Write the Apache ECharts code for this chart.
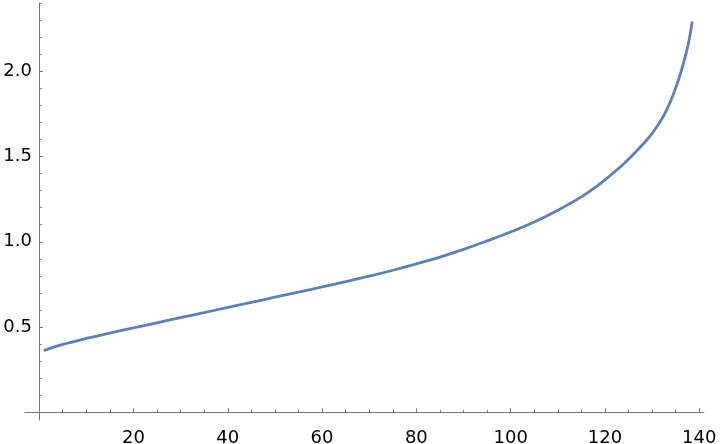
<!DOCTYPE html>
<html>
<head>
<meta charset="utf-8">
<script src="https://cdn.jsdelivr.net/npm/echarts@6/dist/echarts.min.js"></script>
<style>
html,body{margin:0;padding:0;background:#fff;}
#chart{width:720px;height:444px;}
</style>
</head>
<body>
<div id="chart"></div>
<script>
// Curve samples
var xValues = [1, 5, 10, 15, 20, 25, 30, 35, 40, 45, 50, 55, 60, 65, 70, 75, 80, 85, 90, 95, 100, 105, 110, 115, 118, 120, 122, 124, 126, 128, 129, 130, 131, 132, 133, 134, 135, 136, 137, 137.5, 138, 138.5];
var yValues = [0.362, 0.398, 0.433, 0.465, 0.495, 0.525, 0.555, 0.585, 0.615, 0.645, 0.675, 0.705, 0.735, 0.766, 0.798, 0.833, 0.870, 0.910, 0.955, 1.005, 1.057, 1.116, 1.185, 1.263, 1.320, 1.363, 1.409, 1.458, 1.512, 1.570, 1.601, 1.6355, 1.674, 1.7175, 1.769, 1.830, 1.902, 1.985, 2.082, 2.139, 2.207, 2.292];

// Tick marks
var xMajorTicks = [20, 40, 60, 80, 100, 120, 140];
var xMinorTicks = [5, 10, 15, 25, 30, 35, 45, 50, 55, 65, 70, 75, 85, 90, 95, 105, 110, 115, 125, 130, 135];
var yMajorTicks = [0.5, 1.0, 1.5, 2.0];
var yMinorTicks = [0.1, 0.2, 0.3, 0.4, 0.6, 0.7, 0.8, 0.9, 1.1, 1.2, 1.3, 1.4, 1.6, 1.7, 1.8, 1.9, 2.1, 2.2, 2.3, 2.4];

var seriesData = xValues.map(function (x, i) { return [x, yValues[i]]; });

var axisColor = '#777777';
var labelStyle = { color: '#000000', fontFamily: 'DejaVu Sans', fontSize: 18 };

var chart = echarts.init(document.getElementById('chart'), null, { renderer: 'canvas' });
chart.setOption({
  animation: false,
  backgroundColor: '#ffffff',
  grid: { left: 25, right: 16, top: 3, bottom: 24, containLabel: false, outerBoundsMode: 'none' },
  xAxis: [
    {
      type: 'value', min: -3, max: 141, position: 'bottom',
      axisLine: { show: true, onZero: true, onZeroAxisIndex: 0, lineStyle: { color: axisColor, width: 1 } },
      axisTick: { show: true, inside: true, length: 4, customValues: xMajorTicks, lineStyle: { color: axisColor } },
      axisLabel: Object.assign({ show: true, margin: 9, customValues: xMajorTicks, hideOverlap: false }, labelStyle),
      splitLine: { show: false }
    },
    {
      type: 'value', min: -3, max: 141, position: 'bottom',
      axisLine: { show: false, onZero: true, onZeroAxisIndex: 0 },
      axisTick: { show: true, inside: true, length: 2.5, customValues: xMinorTicks, lineStyle: { color: axisColor } },
      axisLabel: { show: false },
      splitLine: { show: false }
    }
  ],
  yAxis: [
    {
      type: 'value', min: -0.045, max: 2.4, position: 'left',
      axisLine: { show: true, onZero: true, onZeroAxisIndex: 0, lineStyle: { color: axisColor, width: 1 } },
      axisTick: { show: true, inside: true, length: 4, customValues: yMajorTicks, lineStyle: { color: axisColor } },
      axisLabel: Object.assign({ show: true, margin: -7, customValues: yMajorTicks,
        formatter: function (v) { return Number(v).toFixed(1); } }, labelStyle),
      splitLine: { show: false }
    },
    {
      type: 'value', min: -0.045, max: 2.4, position: 'left',
      axisLine: { show: false, onZero: true, onZeroAxisIndex: 0 },
      axisTick: { show: true, inside: true, length: 2.5, customValues: yMinorTicks, lineStyle: { color: axisColor } },
      axisLabel: { show: false },
      splitLine: { show: false }
    }
  ],
  series: [
    {
      type: 'line',
      xAxisIndex: 0,
      yAxisIndex: 0,
      data: seriesData,
      showSymbol: false,
      smooth: 0.3,
      lineStyle: { color: '#5e81b5', width: 2.8 },
      itemStyle: { color: '#5e81b5' }
    }
  ]
});
</script>
</body>
</html>
